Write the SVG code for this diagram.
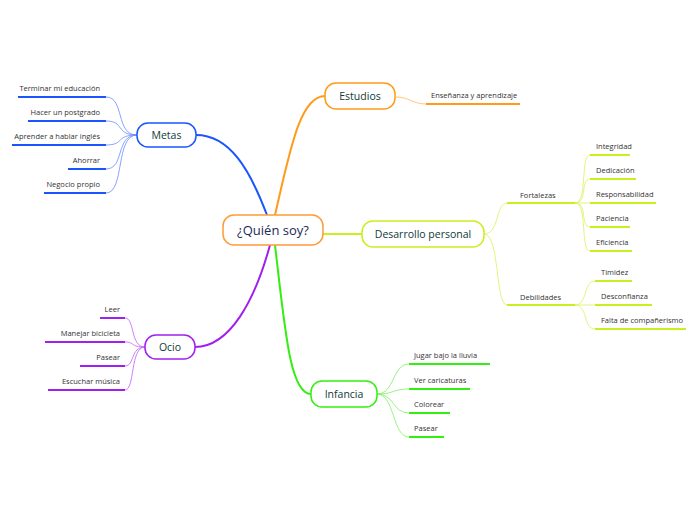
<svg xmlns="http://www.w3.org/2000/svg" width="696" height="520" viewBox="0 0 696 520">
<style>
text{font-family:"Open Sans","Noto Sans","DejaVu Sans",sans-serif;}
.n{fill:#fff;stroke-width:1.5}
.t{font-size:10.5px;fill:#0f3a3a;text-anchor:middle}
.s{font-size:7.5px;fill:#333}
.r{text-anchor:end}
.c{fill:none;stroke-width:2}
.l{fill:none;stroke-width:0.8}
.u{fill:none;stroke-width:2}
</style>
<rect width="696" height="520" fill="#fff"/>
<g id="connectors">
<path class="c" stroke="#1a55ff" d="M267,215 C250,170 230,135 196,135"/>
<path class="c" stroke="#ff9a1a" d="M275,215 C290,150 300,96 325,96"/>
<path class="c" stroke="#c8f020" d="M323,234 L362,234"/>
<path class="c" stroke="#a020f0" d="M270,245 C255,300 230,347 195,347"/>
<path class="c" stroke="#33ee11" d="M275,245 C285,330 290,394 311,394"/>
<g stroke="#ffbb55" class="l"><path d="M395,97 C410,97 412,104 426,104"/></g>
<g stroke="#6b8cff" class="l">
<path d="M137,135 C115,135 125,97 106,97"/><path d="M137,135 C115,135 125,121 106,121"/><path d="M137,135 C115,135 125,145 106,145"/><path d="M137,135 C115,135 125,169 106,169"/><path d="M137,135 C115,135 125,193 106,193"/></g>
<g stroke="#dcf060" class="l">
<path d="M484,234 C500,234 495,203 507,203"/><path d="M484,234 C500,234 495,305 507,305"/>
<path d="M575,203 C588,203 580,155 590,155"/><path d="M575,203 C588,203 580,179 590,179"/><path d="M575,203 L590,203"/><path d="M575,203 C588,203 580,227 590,227"/><path d="M575,203 C588,203 580,251 590,251"/>
<path d="M575,305 C588,305 583,281 595,281"/><path d="M575,305 L595,305"/><path d="M575,305 C588,305 583,329 595,329"/></g>
<g stroke="#c060f5" class="l">
<path d="M145,347 C130,347 135,318 125,318"/><path d="M145,347 C130,347 135,342 125,342"/><path d="M145,347 C130,347 135,366 125,366"/><path d="M145,347 C130,347 135,390 125,390"/></g>
<g stroke="#80f060" class="l">
<path d="M377,394 C395,394 392,364 409,364"/><path d="M377,394 C395,394 392,389 409,389"/><path d="M377,394 C395,394 392,413 409,413"/><path d="M377,394 C395,394 392,437 409,437"/></g>
</g>
<g id="center"><rect class="n" stroke="#ff9a3a" x="223" y="215" width="100" height="30" rx="11"/><text x="273" y="235" font-size="13" fill="#1a2a55" text-anchor="middle">¿Quién soy?</text></g>
<g id="estudios"><rect class="n" stroke="#ff9a1a" x="325" y="83" width="70" height="26" rx="11"/><text class="t" x="360" y="100">Estudios</text>
<text class="s" x="431" y="98">Enseñanza y aprendizaje</text><path class="u" stroke="#ff9a1a" d="M426,104 H520"/></g>
<g id="desarrollo"><rect class="n" stroke="#c8f020" x="362" y="221" width="122" height="26" rx="11"/><text class="t" x="423" y="238">Desarrollo personal</text>
<text class="s" x="520" y="198">Fortalezas</text><path class="u" stroke="#c8f020" d="M507,203 H575"/>
<text class="s" x="596" y="149">Integridad</text><path class="u" stroke="#c8f020" d="M590,155 H630"/>
<text class="s" x="596" y="173">Dedicación</text><path class="u" stroke="#c8f020" d="M590,179 H636"/>
<text class="s" x="596" y="197">Responsabilidad</text><path class="u" stroke="#c8f020" d="M590,203 H656"/>
<text class="s" x="596" y="221">Paciencia</text><path class="u" stroke="#c8f020" d="M590,227 H630"/>
<text class="s" x="596" y="245">Eficiencia</text><path class="u" stroke="#c8f020" d="M590,251 H632"/>
<text class="s" x="520" y="300">Debilidades</text><path class="u" stroke="#c8f020" d="M507,305 H575"/>
<text class="s" x="601" y="275">Timidez</text><path class="u" stroke="#c8f020" d="M595,281 H632"/>
<text class="s" x="601" y="299">Desconfianza</text><path class="u" stroke="#c8f020" d="M595,305 H652"/>
<text class="s" x="601" y="323">Falta de compañerismo</text><path class="u" stroke="#c8f020" d="M595,329 H686"/></g>
<g id="metas"><rect class="n" stroke="#1a55ff" x="137" y="123" width="59" height="24" rx="11"/><text class="t" x="166.5" y="139">Metas</text>
<text class="s r" x="100" y="91">Terminar mi educación</text><path class="u" stroke="#1a55ff" d="M18,97 H106"/>
<text class="s r" x="100" y="115">Hacer un postgrado</text><path class="u" stroke="#1a55ff" d="M28,121 H106"/>
<text class="s r" x="100" y="139">Aprender a hablar inglés</text><path class="u" stroke="#1a55ff" d="M12,145 H106"/>
<text class="s r" x="100" y="163">Ahorrar</text><path class="u" stroke="#1a55ff" d="M68,169 H106"/>
<text class="s r" x="100" y="187">Negocio propio</text><path class="u" stroke="#1a55ff" d="M44,193 H106"/></g>
<g id="ocio"><rect class="n" stroke="#a020f0" x="145" y="335" width="50" height="24" rx="11"/><text class="t" x="170" y="351">Ocio</text>
<text class="s r" x="120" y="312">Leer</text><path class="u" stroke="#a020f0" d="M100,318 H125"/>
<text class="s r" x="120" y="336">Manejar bicicleta</text><path class="u" stroke="#a020f0" d="M45,342 H125"/>
<text class="s r" x="120" y="360">Pasear</text><path class="u" stroke="#a020f0" d="M80,366 H125"/>
<text class="s r" x="120" y="384">Escuchar música</text><path class="u" stroke="#a020f0" d="M48,390 H125"/></g>
<g id="infancia"><rect class="n" stroke="#33ee11" x="311" y="381" width="66" height="26" rx="11"/><text class="t" x="344" y="398">Infancia</text>
<text class="s" x="414" y="358">Jugar bajo la lluvia</text><path class="u" stroke="#33ee11" d="M409,364 H490"/>
<text class="s" x="414" y="383">Ver caricaturas</text><path class="u" stroke="#33ee11" d="M409,389 H470"/>
<text class="s" x="414" y="407">Colorear</text><path class="u" stroke="#33ee11" d="M409,413 H450"/>
<text class="s" x="414" y="431">Pasear</text><path class="u" stroke="#33ee11" d="M409,437 H444"/></g>
</svg>
